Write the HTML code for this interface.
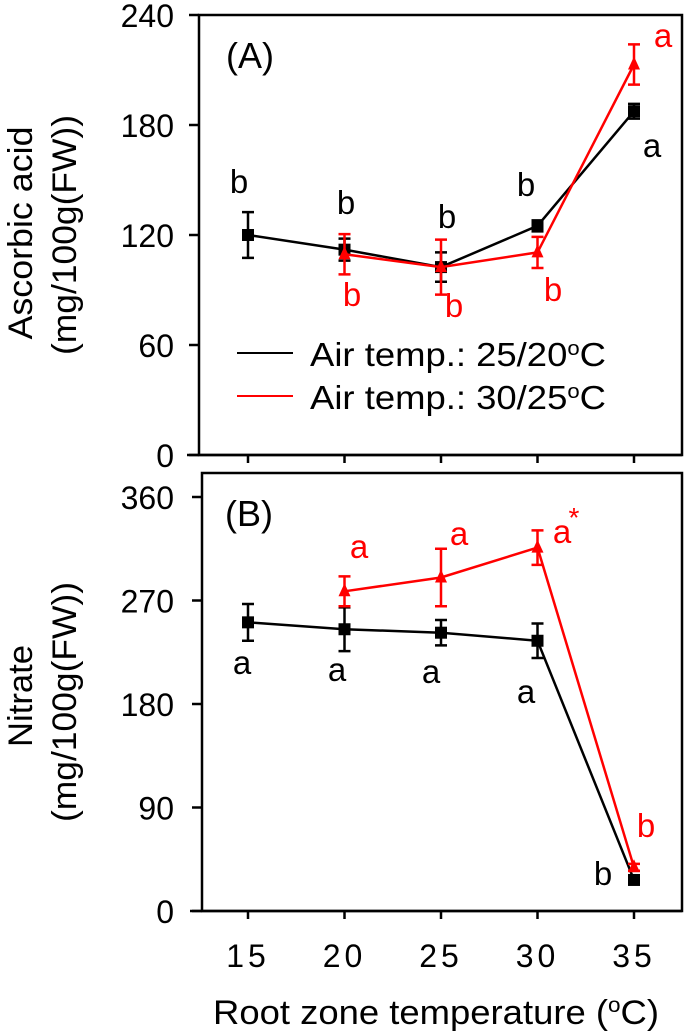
<!DOCTYPE html>
<html><head><meta charset="utf-8"><style>
html,body{margin:0;padding:0;background:#fff;width:685px;height:1034px;overflow:hidden}
svg{display:block;font-family:"Liberation Sans",Arial,sans-serif}
</style></head><body>
<svg id="chart" width="685" height="1034" viewBox="0 0 685 1034" xmlns="http://www.w3.org/2000/svg">
<g id="g"></g>
</svg>
<script>
const temps = [15, 20, 25, 30, 35];
const ascBlack = [120, 112, 102.5, 125, 187.5];
const ascBlackErr = [12.5, 6, 8, 3, 4];
const ascRed = [null, 109.5, 102.5, 110.5, 213];
const ascRedErr = [null, 11, 15, 8.5, 11];
const nitBlack = [251, 245, 242, 235, 27];
const nitBlackErr = [16, 19, 11, 15, 3];
const nitRed = [null, 278, 290, 316, 38];
const nitRedErr = [null, 13, 25, 15, 3];
const ascTicks = [0, 60, 120, 180, 240];
const nitTicks = [0, 90, 180, 270, 360];
const ascBlackLetters = ['b','b','b','b','a'];
const ascRedLetters = ['','b','b','b','a'];
const nitBlackLetters = ['a','a','a','a','b'];
const nitRedLetters = ['','a','a','a','b'];

const NS = 'http://www.w3.org/2000/svg';
const root = document.getElementById('g');
function mk(tag, attrs, parent, text){
  const e = document.createElementNS(NS, tag);
  for (const k in attrs) e.setAttribute(k, attrs[k]);
  if (text !== undefined) e.textContent = text;
  (parent || root).appendChild(e);
  return e;
}
const xs = t => 248 + (t - 15) / 5 * 96.5;
const yA = v => 455 - v / 240 * 440;
const yB = v => 911 - v / 360 * 414;

function panel(name, box, y, ticks, axisLeft){
  const g = mk('g', {});
  
  
  mk('rect', {x: box[0], y: box[1], width: box[2]-box[0], height: box[3]-box[1], fill: 'none', stroke: '#000', 'stroke-width': 2.5}, g);
  mk('line', {x1: axisLeft, y1: box[3], x2: box[2], y2: box[3], stroke: '#000', 'stroke-width': 2.5}, g);
  ticks.forEach(v => {
    const t = mk('line', {x1: axisLeft+2, y1: y(v), x2: box[0], y2: y(v), stroke: '#000', 'stroke-width': 2.5}, g);
    
    
    const l = mk('text', {x: 174, y: y(v) + 12, 'text-anchor': 'end', 'font-size': 32}, g, String(v));
    
    
  });
  temps.forEach(t => {
    const k = mk('line', {x1: xs(t), y1: box[3], x2: xs(t), y2: box[3] + 8, stroke: '#000', 'stroke-width': 2.5}, g);
    
    
  });
  return g;
}
function series(g, name, vals, errs, y, color, marker){
  const s = mk('g', {}, g);
  
  
  let pts = [];
  vals.forEach((v, i) => { if (v !== null) pts.push(xs(temps[i]) + ',' + y(v)); });
  mk('polyline', {points: pts.join(' '), fill: 'none', stroke: color, 'stroke-width': 2.5}, s);
  vals.forEach((v, i) => {
    if (v === null) return;
    const x = xs(temps[i]), y0 = y(v - errs[i]), y1 = y(v + errs[i]);
    const eb = mk('path', {d: `M${x},${y0}V${y1}M${x-6},${y0}H${x+6}M${x-6},${y1}H${x+6}`, stroke: color, 'stroke-width': 2.5, fill: 'none'}, s);
    
    
    let m;
    if (marker === 'sq') m = mk('rect', {x: x-6, y: y(v)-6, width: 12, height: 12, fill: color}, s);
    else m = mk('path', {d: `M${x},${y(v)-8}L${x+6},${y(v)+5}L${x-6},${y(v)+5}Z`, fill: color}, s);
    
    
  });
}
function letters(g, arr, pos, color){
  arr.forEach((l, i) => {
    if (!l) return;
    const t = mk('text', {x: pos[i][0], y: pos[i][1] + 11, 'text-anchor': 'middle', 'font-size': 33, fill: color}, g, l);
    
    
  });
}

// Panel A
const pA = panel('panel-a-ascorbic-acid', [199, 15, 682, 455], yA, ascTicks, 187);
series(pA, 'series-air-25-20', ascBlack, ascBlackErr, yA, '#000', 'sq');
series(pA, 'series-air-30-25', ascRed, ascRedErr, yA, '#f00', 'tri');
letters(pA, ascBlackLetters, [[239,182],[346,203],[447,217],[526,185],[652,146]], '#000');
letters(pA, ascRedLetters, [[0,0],[352,295],[454,306],[553,290],[663,36]], '#f00');
let t = mk('text', {x: 250, y: 68, 'text-anchor': 'middle', 'font-size': 36}, pA, '(A)');
 

// legend
const lg = mk('g', {});


mk('line', {x1: 237, y1: 353, x2: 293, y2: 353, stroke: '#000', 'stroke-width': 2}, lg);
mk('line', {x1: 237, y1: 396, x2: 293, y2: 396, stroke: '#f00', 'stroke-width': 2}, lg);
let l1 = mk('text', {x: 310, y: 366, 'font-size': 33, textLength: 296, lengthAdjust: 'spacingAndGlyphs'}, lg);


l1.innerHTML = 'Air temp.: 25/20<tspan font-size="20" dy="-11">o</tspan><tspan dy="11">C</tspan>';
let l2 = mk('text', {x: 310, y: 409, 'font-size': 33, textLength: 296, lengthAdjust: 'spacingAndGlyphs'}, lg);


l2.innerHTML = 'Air temp.: 30/25<tspan font-size="20" dy="-11">o</tspan><tspan dy="11">C</tspan>';

// Panel B
const pB = panel('panel-b-nitrate', [202, 473, 682, 911], yB, nitTicks, 190);
series(pB, 'series-air-25-20', nitBlack, nitBlackErr, yB, '#000', 'sq');
series(pB, 'series-air-30-25', nitRed, nitRedErr, yB, '#f00', 'tri');
letters(pB, nitBlackLetters, [[242,663],[337,670],[431,672],[526,692],[603,874]], '#000');
letters(pB, nitRedLetters, [[0,0],[359,547],[459,534],[562,532],[646,826]], '#f00');
t = mk('text', {x: 574, y: 527, 'text-anchor': 'middle', 'font-size': 28, fill: '#f00'}, pB, '*');
 
t = mk('text', {x: 249, y: 526, 'text-anchor': 'middle', 'font-size': 36}, pB, '(B)');
 

// x tick labels
temps.forEach(v => {
  const e = mk('text', {x: xs(v), y: 967, 'text-anchor': 'middle', 'font-size': 32, 'letter-spacing': 4}, root, String(v));
  
  
});
let xt = mk('text', {x: 436, y: 1024, 'text-anchor': 'middle', 'font-size': 34, textLength: 446, lengthAdjust: 'spacingAndGlyphs'});


xt.innerHTML = 'Root zone temperature (<tspan font-size="21" dy="-12">o</tspan><tspan dy="12">C)</tspan>';

function ytitle(name, txt, x, cy, len){
  const e = mk('text', {x: 0, y: 0, 'text-anchor': 'middle', 'font-size': 34, transform: `translate(${x},${cy}) rotate(-90)`, textLength: len, lengthAdjust: 'spacingAndGlyphs'}, root, txt);
  
  
}
ytitle('y-axis-title-a', 'Ascorbic acid', 32, 233, 213);
ytitle('y-axis-unit-a', '(mg/100g(FW))', 76, 235, 240);
ytitle('y-axis-title-b', 'Nitrate', 32, 696, 102);
ytitle('y-axis-unit-b', '(mg/100g(FW))', 76, 702, 240);
</script>
</body></html>
